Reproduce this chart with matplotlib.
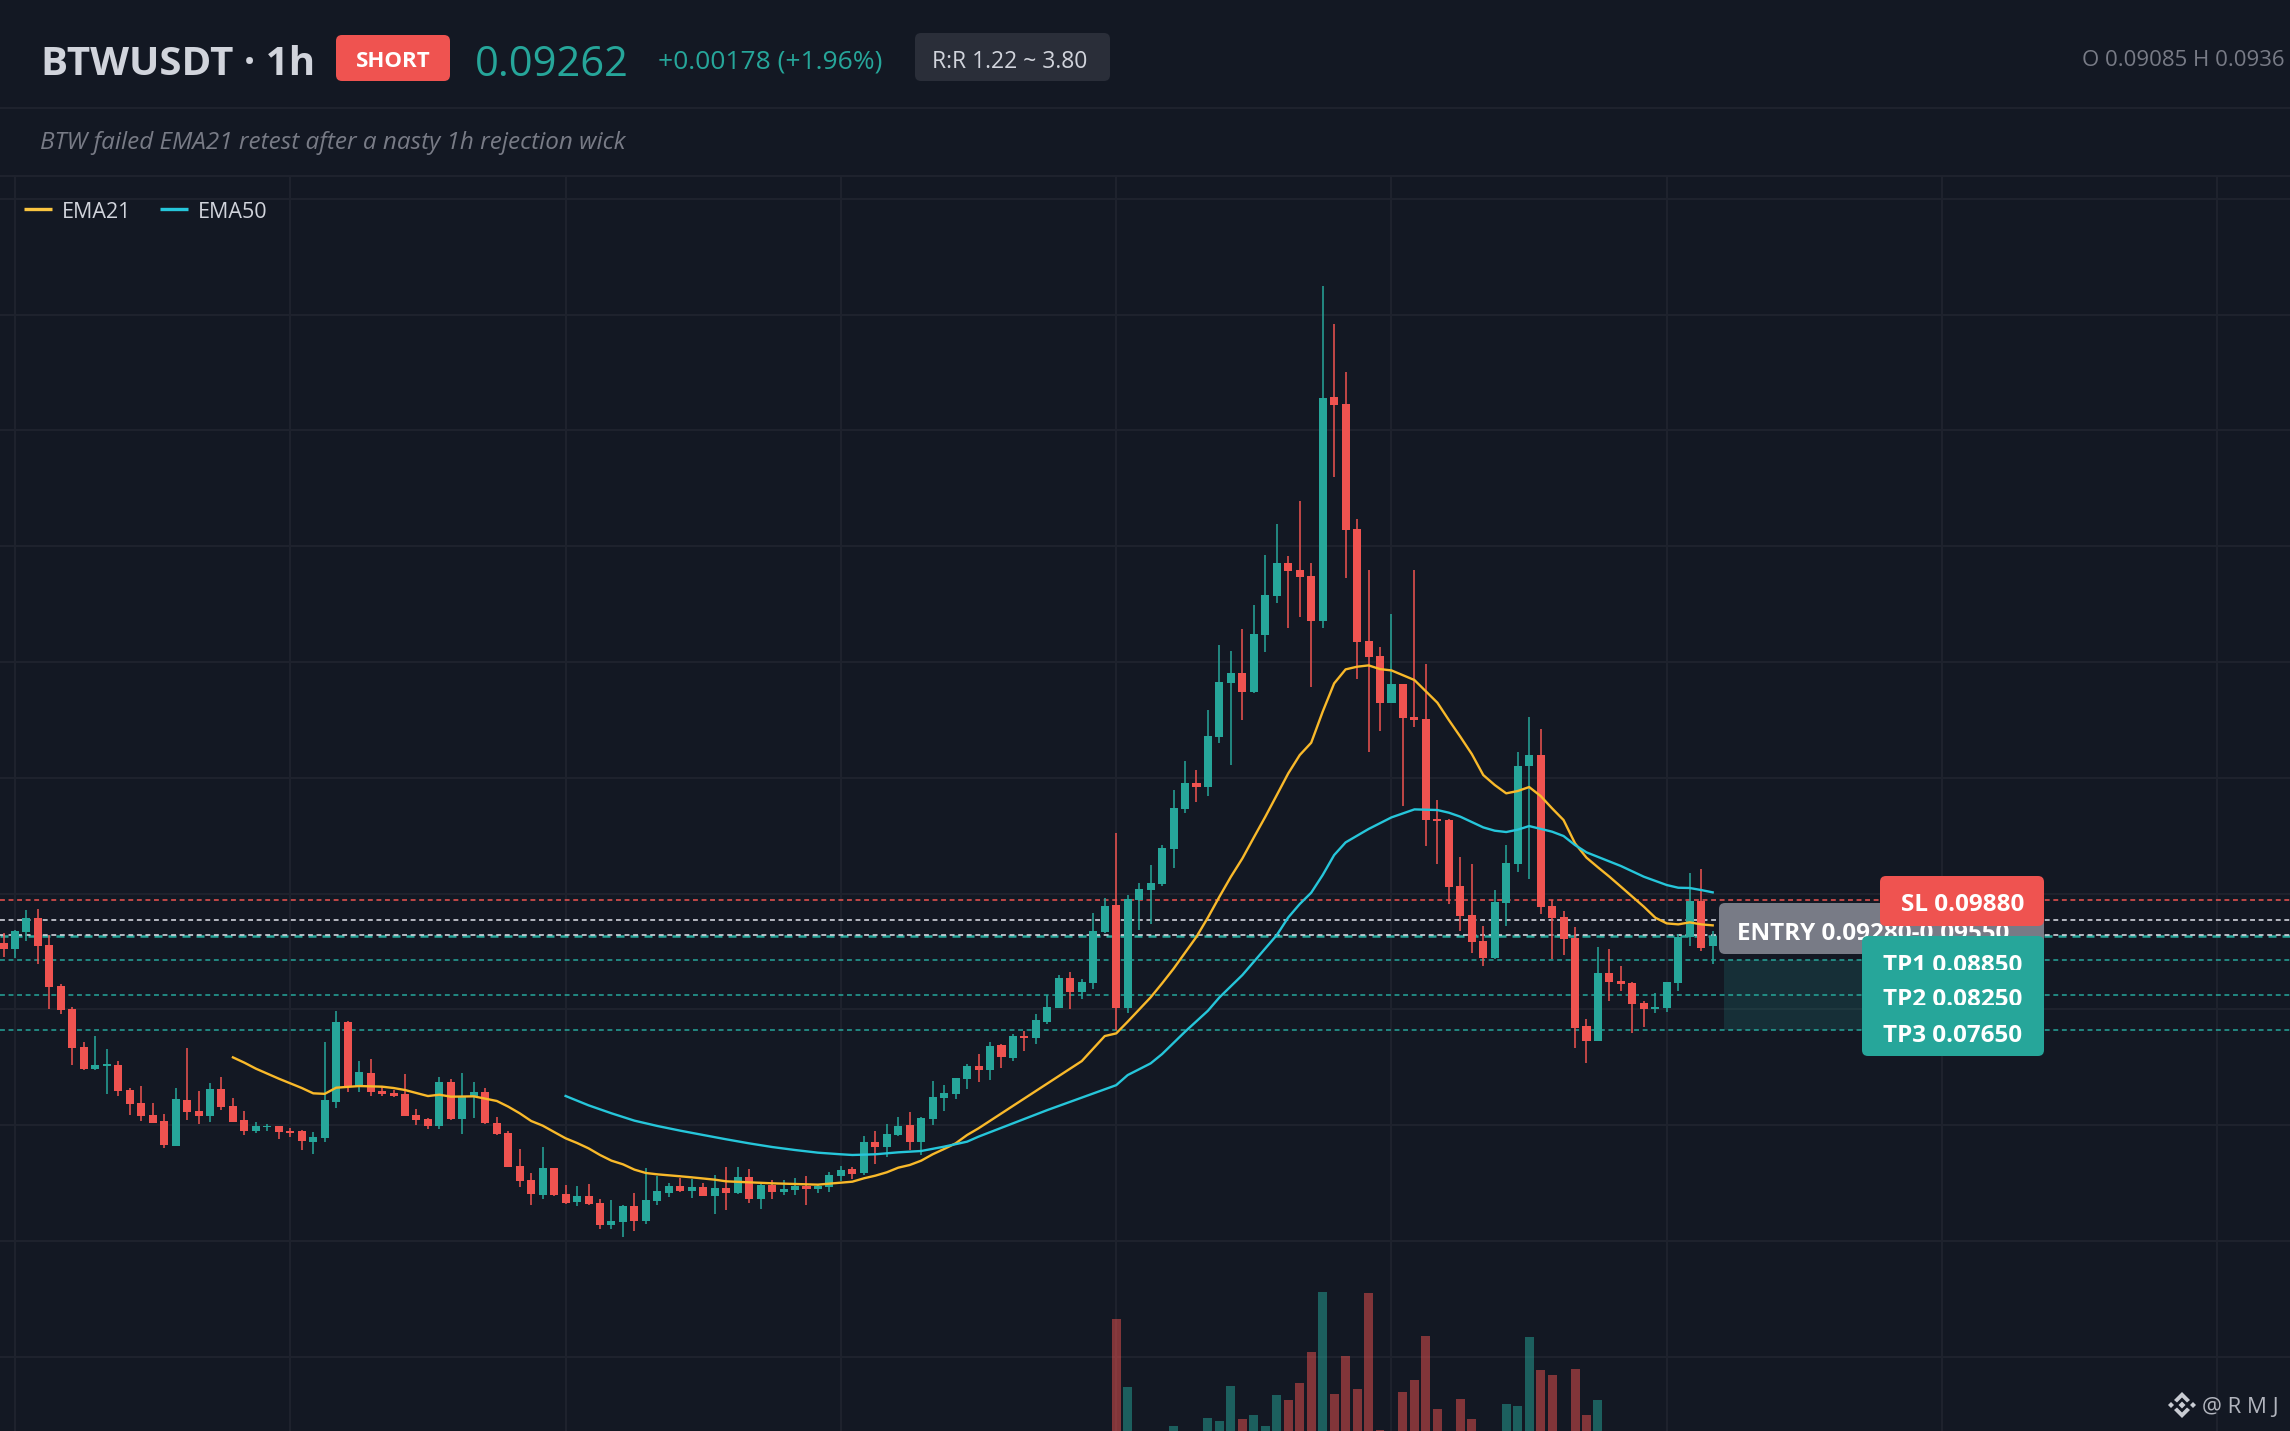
import matplotlib
matplotlib.use("Agg")
import matplotlib.pyplot as plt
from matplotlib.patches import FancyBboxPatch, Polygon

plt.rcParams['font.family'] = ['Open Sans', 'DejaVu Sans']

# candles, oldest first (150 x 1h)
OPEN = [
    0.09139, 0.09041, 0.09335, 0.09577, 0.09110, 0.08402, 0.08005, 0.07349, 0.06969, 0.07021,
    0.07038, 0.06606, 0.06382, 0.06174, 0.06071, 0.05639, 0.06433, 0.06243, 0.06157, 0.06623,
    0.06330, 0.06088, 0.05898, 0.05961, 0.05984, 0.05892, 0.05898, 0.05708, 0.05777, 0.06399,
    0.07781, 0.06675, 0.06900, 0.06589, 0.06549, 0.06537, 0.06174, 0.06105, 0.05984, 0.06744,
    0.06105, 0.06502, 0.06571, 0.06036, 0.05864, 0.05294, 0.05052, 0.04793, 0.05259, 0.04810,
    0.04672, 0.04776, 0.04655, 0.04275, 0.04327, 0.04603, 0.04344, 0.04689, 0.04828, 0.04949,
    0.04862, 0.04931, 0.04776, 0.04914, 0.04828, 0.05104, 0.04724, 0.04966, 0.04845, 0.04880,
    0.04949, 0.04897, 0.04931, 0.05121, 0.05242, 0.05173, 0.05709, 0.05622, 0.05829, 0.06002,
    0.05709, 0.06106, 0.06468, 0.06538, 0.06797, 0.07021, 0.06951, 0.07383, 0.07158, 0.07538,
    0.07503, 0.07780, 0.08022, 0.08540, 0.08298, 0.08453, 0.09334, 0.09800, 0.08022, 0.09887,
    0.10060, 0.10163, 0.10768, 0.11459, 0.11908, 0.11838, 0.12702, 0.13635, 0.13807, 0.13479,
    0.14464, 0.15138, 0.15708, 0.15587, 0.15483, 0.14706, 0.18575, 0.18454, 0.16295, 0.14360,
    0.14101, 0.13290, 0.13618, 0.13042, 0.13013, 0.11287, 0.11269, 0.10129, 0.09628, 0.09179,
    0.08886, 0.09836, 0.10509, 0.12202, 0.12392, 0.09784, 0.09594, 0.09231, 0.07711, 0.07452,
    0.08627, 0.08488, 0.08454, 0.08108, 0.08011, 0.08022, 0.08454, 0.09248, 0.09870, 0.09085,
]
HIGH = [
    0.09312, 0.09369, 0.09715, 0.09732, 0.09283, 0.08437, 0.08040, 0.07429, 0.07539, 0.07314,
    0.07101, 0.06635, 0.06675, 0.06382, 0.06192, 0.06635, 0.07331, 0.06589, 0.06721, 0.06831,
    0.06468, 0.06243, 0.06053, 0.06019, 0.05984, 0.05950, 0.05915, 0.05881, 0.07435, 0.07970,
    0.07798, 0.07107, 0.07141, 0.06675, 0.06606, 0.06882, 0.06278, 0.06123, 0.06831, 0.06796,
    0.06900, 0.06744, 0.06641, 0.06140, 0.05898, 0.05588, 0.05173, 0.05622, 0.05259, 0.04966,
    0.04949, 0.04983, 0.04724, 0.04707, 0.04620, 0.04828, 0.05259, 0.05121, 0.05000, 0.05087,
    0.05069, 0.05000, 0.05139, 0.05277, 0.05277, 0.05242, 0.04983, 0.05052, 0.05052, 0.05087,
    0.05121, 0.04983, 0.05190, 0.05294, 0.05277, 0.05812, 0.05898, 0.06019, 0.06140, 0.06227,
    0.06140, 0.06762, 0.06693, 0.06814, 0.07056, 0.07228, 0.07434, 0.07400, 0.07573, 0.07624,
    0.07918, 0.08246, 0.08592, 0.08643, 0.08522, 0.09662, 0.09921, 0.11044, 0.09973, 0.10180,
    0.10491, 0.10837, 0.11787, 0.12287, 0.12132, 0.13168, 0.14291, 0.14187, 0.14567, 0.14982,
    0.15846, 0.16381, 0.15828, 0.16778, 0.15708, 0.20492, 0.19835, 0.19006, 0.16468, 0.15587,
    0.14257, 0.14827, 0.13618, 0.15587, 0.13963, 0.11614, 0.11287, 0.10630, 0.10509, 0.09438,
    0.10060, 0.10837, 0.12443, 0.13048, 0.12841, 0.09887, 0.09697, 0.09421, 0.07832, 0.09076,
    0.09041, 0.08747, 0.08471, 0.08143, 0.08281, 0.08471, 0.09300, 0.10354, 0.10423, 0.09360,
]
LOW = [
    0.08903, 0.08886, 0.09179, 0.08782, 0.08005, 0.07919, 0.07038, 0.06952, 0.06952, 0.06537,
    0.06502, 0.06174, 0.06071, 0.06036, 0.05604, 0.05639, 0.06088, 0.06019, 0.06053, 0.06261,
    0.06053, 0.05829, 0.05863, 0.05904, 0.05760, 0.05794, 0.05570, 0.05501, 0.05708, 0.06295,
    0.06571, 0.06571, 0.06502, 0.06502, 0.06485, 0.06157, 0.06002, 0.05933, 0.05933, 0.06088,
    0.05846, 0.06123, 0.06019, 0.05829, 0.05277, 0.04931, 0.04620, 0.04724, 0.04776, 0.04638,
    0.04603, 0.04620, 0.04206, 0.04206, 0.04068, 0.04171, 0.04292, 0.04620, 0.04759, 0.04845,
    0.04741, 0.04776, 0.04465, 0.04534, 0.04810, 0.04655, 0.04551, 0.04724, 0.04793, 0.04793,
    0.04620, 0.04828, 0.04845, 0.05035, 0.05069, 0.05139, 0.05329, 0.05449, 0.05812, 0.05570,
    0.05484, 0.06002, 0.06244, 0.06451, 0.06624, 0.06745, 0.06778, 0.06985, 0.07106, 0.07279,
    0.07400, 0.07745, 0.08022, 0.08004, 0.08177, 0.08350, 0.09317, 0.07642, 0.07935, 0.09369,
    0.09472, 0.10129, 0.10439, 0.11389, 0.11579, 0.11683, 0.12598, 0.12218, 0.12996, 0.13462,
    0.14170, 0.15017, 0.14585, 0.14775, 0.13566, 0.14585, 0.17193, 0.15448, 0.13704, 0.12443,
    0.12806, 0.13290, 0.11511, 0.12875, 0.10820, 0.10509, 0.09818, 0.09352, 0.08972, 0.08747,
    0.08868, 0.09438, 0.10371, 0.10250, 0.09646, 0.08868, 0.08938, 0.07331, 0.07072, 0.07452,
    0.08143, 0.08316, 0.07590, 0.07694, 0.07936, 0.07953, 0.08316, 0.09093, 0.09007, 0.08782,
]
CLOSE = [
    0.09041, 0.09352, 0.09577, 0.09093, 0.08385, 0.07988, 0.07331, 0.06969, 0.07038, 0.07049,
    0.06589, 0.06364, 0.06157, 0.06036, 0.05656, 0.06451, 0.06226, 0.06157, 0.06623, 0.06312,
    0.06053, 0.05898, 0.05984, 0.05984, 0.05881, 0.05863, 0.05725, 0.05794, 0.06433, 0.07781,
    0.06675, 0.06917, 0.06571, 0.06537, 0.06502, 0.06157, 0.06088, 0.05984, 0.06744, 0.06105,
    0.06502, 0.06571, 0.06036, 0.05846, 0.05277, 0.05035, 0.04810, 0.05259, 0.04793, 0.04655,
    0.04776, 0.04638, 0.04275, 0.04344, 0.04603, 0.04344, 0.04707, 0.04862, 0.04949, 0.04862,
    0.04931, 0.04776, 0.04914, 0.04828, 0.05104, 0.04724, 0.04966, 0.04845, 0.04897, 0.04949,
    0.04897, 0.04949, 0.05139, 0.05225, 0.05156, 0.05709, 0.05622, 0.05847, 0.05985, 0.05709,
    0.06123, 0.06486, 0.06555, 0.06814, 0.07021, 0.06952, 0.07365, 0.07175, 0.07538, 0.07503,
    0.07814, 0.08039, 0.08540, 0.08298, 0.08471, 0.09351, 0.09783, 0.08022, 0.09904, 0.10077,
    0.10180, 0.10785, 0.11476, 0.11908, 0.11838, 0.12719, 0.13652, 0.13807, 0.13479, 0.14481,
    0.15155, 0.15708, 0.15569, 0.15466, 0.14706, 0.18557, 0.18436, 0.16278, 0.14343, 0.14084,
    0.13290, 0.13618, 0.13031, 0.12996, 0.11269, 0.11252, 0.10112, 0.09611, 0.09162, 0.08886,
    0.09853, 0.10526, 0.12202, 0.12392, 0.09766, 0.09577, 0.09214, 0.07677, 0.07452, 0.08627,
    0.08471, 0.08437, 0.08091, 0.08005, 0.08045, 0.08471, 0.09248, 0.09870, 0.09058, 0.09262,
]

# only the bars that reach above the bottom edge of the picture
VOL_IDX = [97, 98, 102, 105, 106, 107, 108, 109, 110, 111, 112, 113, 114, 115, 116, 117, 118, 119, 120,
           122, 123, 124, 125, 127, 128, 131, 132, 133, 134, 135, 137, 138, 139]
VOLUME = [112, 44, 5, 13, 10, 45, 12, 16, 5, 36, 31, 48, 79, 139, 37, 75, 42, 138, 1,
          39, 51, 95, 22, 32, 12, 27, 25, 94, 61, 56, 62, 16, 31]

EMA21_IDX = [20, 21, 22, 24, 26, 27, 28, 29, 31, 33, 34, 35, 37, 38, 39, 41, 43, 44, 45, 46, 47, 48, 49, 50,
             51, 52, 53, 54, 55, 56, 57, 58, 59, 60, 62, 63, 65, 67, 69, 71, 73, 74, 75, 76, 77, 78, 79, 80,
             81, 82, 83, 84, 85, 94, 96, 97, 98, 100, 101, 102, 104, 105, 106, 107, 108, 109, 110, 111, 112,
             113, 114, 115, 116, 117, 118, 119, 120, 121, 123, 125, 126, 127, 128, 129, 130, 131, 132, 133,
             134, 135, 136, 137, 138, 139, 140, 141, 142, 143, 144, 145, 146, 147, 148, 149]
EMA21 = [0.07170, 0.07078, 0.06975, 0.06802, 0.06641, 0.06549, 0.06540, 0.06646, 0.06675, 0.06664, 0.06641,
         0.06606, 0.06502, 0.06525, 0.06491, 0.06497, 0.06417, 0.06319, 0.06204, 0.06071, 0.05991, 0.05881,
         0.05772, 0.05691, 0.05599, 0.05484, 0.05386, 0.05323, 0.05231, 0.05173, 0.05150, 0.05133, 0.05116,
         0.05098, 0.05058, 0.05029, 0.05012, 0.04995, 0.04983, 0.04972, 0.05006, 0.05023, 0.05081, 0.05127,
         0.05185, 0.05265, 0.05311, 0.05386, 0.05496, 0.05588, 0.05685, 0.05829, 0.05945, 0.07106, 0.07538,
         0.07584, 0.07786, 0.08206, 0.08448, 0.08701, 0.09253, 0.09587, 0.09945, 0.10290, 0.10606, 0.10969,
         0.11326, 0.11700, 0.12075, 0.12391, 0.12604, 0.13140, 0.13629, 0.13871, 0.13917, 0.13940, 0.13876,
         0.13853, 0.13687, 0.13296, 0.12996, 0.12708, 0.12409, 0.12046, 0.11874, 0.11730, 0.11770, 0.11839,
         0.11684, 0.11471, 0.11269, 0.10866, 0.10619, 0.10452, 0.10290, 0.10118, 0.09945, 0.09772, 0.09582,
         0.09484, 0.09467, 0.09502, 0.09467, 0.09450]

EMA50_IDX = [49, 51, 53, 55, 57, 59, 61, 63, 65, 67, 69, 71, 73, 74, 76, 78, 80, 82, 84, 85, 91, 97, 98, 100,
             101, 103, 105, 106, 108, 109, 111, 112, 113, 114, 115, 116, 117, 119, 121, 123, 125, 126, 127,
             129, 130, 131, 132, 133, 135, 136, 137, 138, 141, 143, 145, 146, 147, 148, 149]
EMA50 = [0.06503, 0.06342, 0.06204, 0.06077, 0.05985, 0.05904, 0.05829, 0.05755, 0.05685, 0.05622, 0.05570,
         0.05524, 0.05496, 0.05484, 0.05496, 0.05530, 0.05553, 0.05628, 0.05714, 0.05801, 0.06260, 0.06690,
         0.06864, 0.07066, 0.07227, 0.07613, 0.07976, 0.08206, 0.08592, 0.08822, 0.09282, 0.09587, 0.09818,
         0.10014, 0.10319, 0.10664, 0.10883, 0.11114, 0.11315, 0.11453, 0.11442, 0.11396, 0.11327, 0.11142,
         0.11085, 0.11062, 0.11102, 0.11165, 0.11068, 0.10993, 0.10837, 0.10711, 0.10475, 0.10290, 0.10146,
         0.10100, 0.10095, 0.10060, 0.10020]

SL = 0.09880
ENTRY_LOW = 0.09280
ENTRY_HIGH = 0.09550
TP_LEVELS = [0.08850, 0.08250, 0.07650]
LAST_PRICE = 0.09262
PRICE_TICKS = [0.02, 0.04, 0.06, 0.08, 0.10, 0.12, 0.14, 0.16, 0.18, 0.20, 0.22]
TIME_TICKS = [1, 25, 49, 73, 97, 121, 145, 169, 193]

BG = '#131823'
GRID = '#1e222d'
UP = '#26a69a'
DOWN = '#ef5350'
TXT = '#d1d4dc'
MUTED = '#787b86'
W, H = 2290, 1431

fig = plt.figure(figsize=(W / 100, H / 100), dpi=100, facecolor=BG)

# price pane, px -> price: 0.10 at y=893.5, 5790 px per unit
ax = fig.add_axes([0, 0, 1, 1254 / H], facecolor=BG)
ax.set_xlim(-0.308, 199.33)
ax.set_ylim(0.00717, 0.22375)
ax.set_xticks(TIME_TICKS)
ax.set_yticks(PRICE_TICKS)
ax.tick_params(length=0, labelbottom=False, labelleft=False)
ax.grid(True, color=GRID, lw=1.5, zorder=0)
ax.set_axisbelow(True)
for s in ax.spines.values():
    s.set_visible(False)

# volume on its own scale
vol = ax.twinx()
vol.set_ylim(0, 1254)
vol.axis('off')
vol_up = [CLOSE[i] >= OPEN[i] for i in VOL_IDX]
vol.bar(VOL_IDX, VOLUME, width=0.78, color=[UP if u else DOWN for u in vol_up], alpha=0.5, lw=0, zorder=1)

# levels and TP zone
ax.axhspan(TP_LEVELS[2], TP_LEVELS[0], xmin=1724 / W, xmax=2040 / W, color=UP, alpha=0.17, lw=0, zorder=1.5)
dash = (0, (3.2, 2.4))
ax.axhline(LAST_PRICE, color=UP, lw=1.8, ls=dash, zorder=2)
ax.axhline(SL, color=DOWN, lw=1.1, ls=dash, zorder=2)
ax.axhline(ENTRY_HIGH, color='#e0e3eb', lw=1.1, ls=dash, zorder=2.1)
ax.axhline(ENTRY_LOW, color='#e0e3eb', lw=1.1, ls=dash, zorder=2.1)
for tp in TP_LEVELS:
    ax.axhline(tp, color=UP, lw=1.1, ls=dash, zorder=2)

# candles
xs = list(range(len(OPEN)))
cols = [UP if c >= o else DOWN for o, c in zip(OPEN, CLOSE)]
ax.vlines(xs, LOW, HIGH, colors=cols, lw=1.3, alpha=0.85, zorder=3)
ax.bar(xs, [abs(c - o) for o, c in zip(OPEN, CLOSE)], bottom=[min(o, c) for o, c in zip(OPEN, CLOSE)],
       width=0.7, color=cols, lw=0, zorder=4)

ax.plot(EMA21_IDX, EMA21, color='#f9b92a', lw=1.7, zorder=5, solid_joinstyle='round')
ax.plot(EMA50_IDX, EMA50, color='#26c6da', lw=1.7, zorder=5, solid_joinstyle='round')
ax.set_zorder(2)
ax.patch.set_visible(True)
vol.set_zorder(3)

# everything that is page furniture, in pixels
ui = fig.add_axes([0, 0, 1, 1], facecolor='none')
ui.set_xlim(0, W)
ui.set_ylim(H, 0)
ui.axis('off')
ui.set_zorder(10)


def box(x0, y0, x1, y1, color, z, alpha=1.0, r=6):
    ui.add_patch(FancyBboxPatch((x0, y0), x1 - x0, y1 - y0, boxstyle=f'round,pad=0,rounding_size={r}',
                                fc=color, ec='none', alpha=alpha, zorder=z))


ui.hlines([108, 176], 0, W, color=GRID, lw=1.5)
ui.text(41, 60, 'BTWUSDT · 1h', color=TXT, fontsize=29, fontweight='bold', va='center_baseline')
box(336, 35, 450, 81, DOWN, 2)
ui.text(393, 59, 'SHORT', color='white', fontsize=16, fontweight='bold', ha='center', va='center_baseline', zorder=3)
ui.text(475, 60, '0.09262', color=UP, fontsize=30, va='center_baseline')
ui.text(658, 59, '+0.00178 (+1.96%)', color=UP, fontsize=19, va='center_baseline')
box(915, 33, 1110, 81, '#2a2e39', 2)
ui.text(932, 59, 'R:R 1.22 ~ 3.80', color=TXT, fontsize=16.5, fontweight='medium', va='center_baseline', zorder=3)
ui.text(2082, 58, 'O 0.09085 H 0.0936', color=MUTED, fontsize=16, va='center_baseline')
ui.text(40, 140, 'BTW failed EMA21 retest after a nasty 1h rejection wick', color=MUTED, fontsize=17.5,
        style='italic', va='center_baseline')

ui.hlines(209, 24, 52, color='#f9c440', lw=2.4)
ui.text(62, 210, 'EMA21', color=TXT, fontsize=15.5, fontweight='medium', va='center_baseline')
ui.hlines(209, 160, 188, color='#26c6da', lw=2.4)
ui.text(198, 210, 'EMA50', color=TXT, fontsize=15.5, fontweight='medium', va='center_baseline')

# price tags, later ones sit on top of earlier ones
box(1719, 903, 2044, 954, '#787b86', 20)
ui.text(1737, 931, 'ENTRY 0.09280-0.09550', color='white', fontsize=17.5, fontweight='bold', va='center_baseline', zorder=21)
box(1880, 876, 2044, 926, DOWN, 22)
ui.text(1963, 902, 'SL 0.09880', color='white', fontsize=17.5, fontweight='bold', ha='center', va='center_baseline', zorder=23)
box(1862, 936, 2044, 986, UP, 24)
ui.text(1953, 963, 'TP1 0.08850', color='white', fontsize=17.5, fontweight='bold', ha='center', va='center_baseline', zorder=25)
box(1862, 970, 2044, 1020, UP, 26)
ui.text(1953, 997, 'TP2 0.08250', color='white', fontsize=17.5, fontweight='bold', ha='center', va='center_baseline', zorder=27)
box(1862, 1005, 2044, 1056, UP, 28)
ui.text(1953, 1033, 'TP3 0.07650', color='white', fontsize=17.5, fontweight='bold', ha='center', va='center_baseline', zorder=29)

# watermark
mark = '#c9ccd3'
cx, cy = 2182, 1405
for dx, dy, r in [(0, 0, 3.5), (-11, 0, 3), (11, 0, 3)]:
    ui.add_patch(Polygon([(cx + dx - r, cy + dy), (cx + dx, cy + dy - r), (cx + dx + r, cy + dy), (cx + dx, cy + dy + r)],
                         fc=mark, ec='none'))
for s in (-1, 1):
    ui.add_patch(Polygon([(cx - 8, cy + s * 5), (cx, cy + s * 13), (cx + 8, cy + s * 5), (cx + 5, cy + s * 2.5),
                          (cx, cy + s * 7.5), (cx - 5, cy + s * 2.5)], fc=mark, ec='none'))
ui.text(2202, 1405, '@ R M J', color='#b2b5be', fontsize=16, va='center_baseline')

fig.savefig('out.png', dpi=100, facecolor=BG)
